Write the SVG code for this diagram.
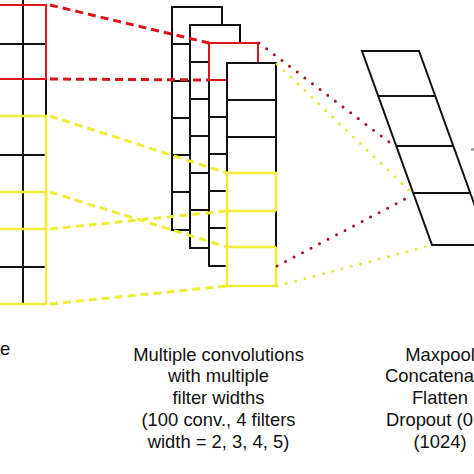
<svg xmlns="http://www.w3.org/2000/svg" width="474" height="474" viewBox="0 0 474 474">
<style>
.k{stroke:#111;stroke-width:2;fill:none}
.col{stroke:#111;stroke-width:2;fill:#fff}
.r{stroke:#d8161b;stroke-width:2;fill:none}
.y{stroke:#eeee3a;stroke-width:2.5;fill:none}
.rd{stroke:#d8161b;stroke-width:3;stroke-dasharray:8 5;fill:none}
.yd{stroke:#eeee3a;stroke-width:3;stroke-dasharray:8 5;fill:none}
.rdot{stroke:#a8101a;stroke-width:3;stroke-dasharray:0 9.6;stroke-linecap:round;fill:none}
.ydot{stroke:#e6e640;stroke-width:3;stroke-dasharray:0 9.6;stroke-linecap:round;fill:none}
text{font-family:"Liberation Sans",Arial,sans-serif;font-size:18.4px;fill:#111}
</style>
<rect width="474" height="474" fill="#fff"/>

<g id="input-grid">
  <line class="k" x1="23" y1="0" x2="23" y2="305"/>
  <line class="k" x1="46" y1="79" x2="46" y2="116"/>
  <line class="k" x1="-2" y1="44" x2="46" y2="44"/>
  <line class="k" x1="-2" y1="155" x2="46" y2="155"/>
  <line class="k" x1="-2" y1="267" x2="46" y2="267"/>
  <path class="r" d="M-2,5 H46 V79 H-2"/>
  <path class="y" d="M-2,116 H46 V229 H-2"/>
  <path class="y" d="M-2,192 H46 V304 H-2"/>
</g>

<g id="conv-stack">
  <g id="col1">
    <rect class="col" x="172" y="7" width="50" height="223"/>
    <path class="k" d="M172,44H222M172,81H222M172,118H222M172,155H222M172,192H222"/>
  </g>
  <g id="col2">
    <rect class="col" x="190" y="25" width="50" height="223"/>
    <path class="k" d="M190,62H240M190,99H240M190,136H240M190,173H240M190,210H240"/>
  </g>
  <g id="col3">
    <rect class="col" x="209" y="43" width="49" height="223"/>
    <path class="k" d="M209,117H258M209,154H258M209,191H258M209,228H258"/>
    <path class="r" d="M209,80 V43 H258 V63 M209,80 H228"/>
  </g>
  <g id="col4">
    <rect class="col" x="227" y="63" width="49" height="223"/>
    <path class="k" d="M227,100H276M227,137H276"/>
    <path class="y" d="M227,173 H276 V211 M227,173 V286 H276 V247 M227,211 H276 M227,247 H276"/>
  </g>
</g>

<g id="pool-layer">
  <polygon class="k" points="362,51 419,51 489,245 432,245"/>
  <path class="k" d="M378,96H435M396,146H453M413,193H470"/>
  <line x1="471" y1="149.5" x2="474" y2="149.5" stroke="#999" stroke-width="2.5"/>
</g>

<g id="connectors">
  <line class="rd" x1="50" y1="5" x2="209" y2="43"/>
  <line class="rd" x1="50" y1="79" x2="209" y2="80"/>
  <line class="yd" x1="50" y1="116" x2="227" y2="173"/>
  <line class="yd" x1="50" y1="192" x2="227" y2="247"/>
  <line class="yd" x1="50" y1="229" x2="227" y2="211"/>
  <line class="yd" x1="50" y1="304" x2="227" y2="286"/>
  <line class="rdot" x1="259" y1="43" x2="393" y2="145"/>
  <line class="ydot" x1="277" y1="64" x2="412" y2="193"/>
  <line class="rdot" x1="277" y1="266" x2="409" y2="197"/>
  <line class="ydot" x1="277" y1="286" x2="432" y2="245"/>
</g>

<g id="labels">
  <text x="0" y="355">e</text>
  <g text-anchor="middle">
    <text x="218.5" y="360.5">Multiple convolutions</text>
    <text x="218.5" y="382.3">with multiple</text>
    <text x="218.5" y="404">filter widths</text>
    <text x="218.5" y="425.8">(100 conv., 4 filters</text>
    <text x="218.5" y="447.6">width = 2, 3, 4, 5)</text>
    <text x="440" y="360.5">Maxpool</text>
    <text x="440" y="404">Flatten</text>
    <text x="440" y="447.6">(1024)</text>
  </g>
  <text x="385" y="382.3">Concatena</text>
  <text x="386" y="425.8">Dropout (0</text>
</g>
</svg>
